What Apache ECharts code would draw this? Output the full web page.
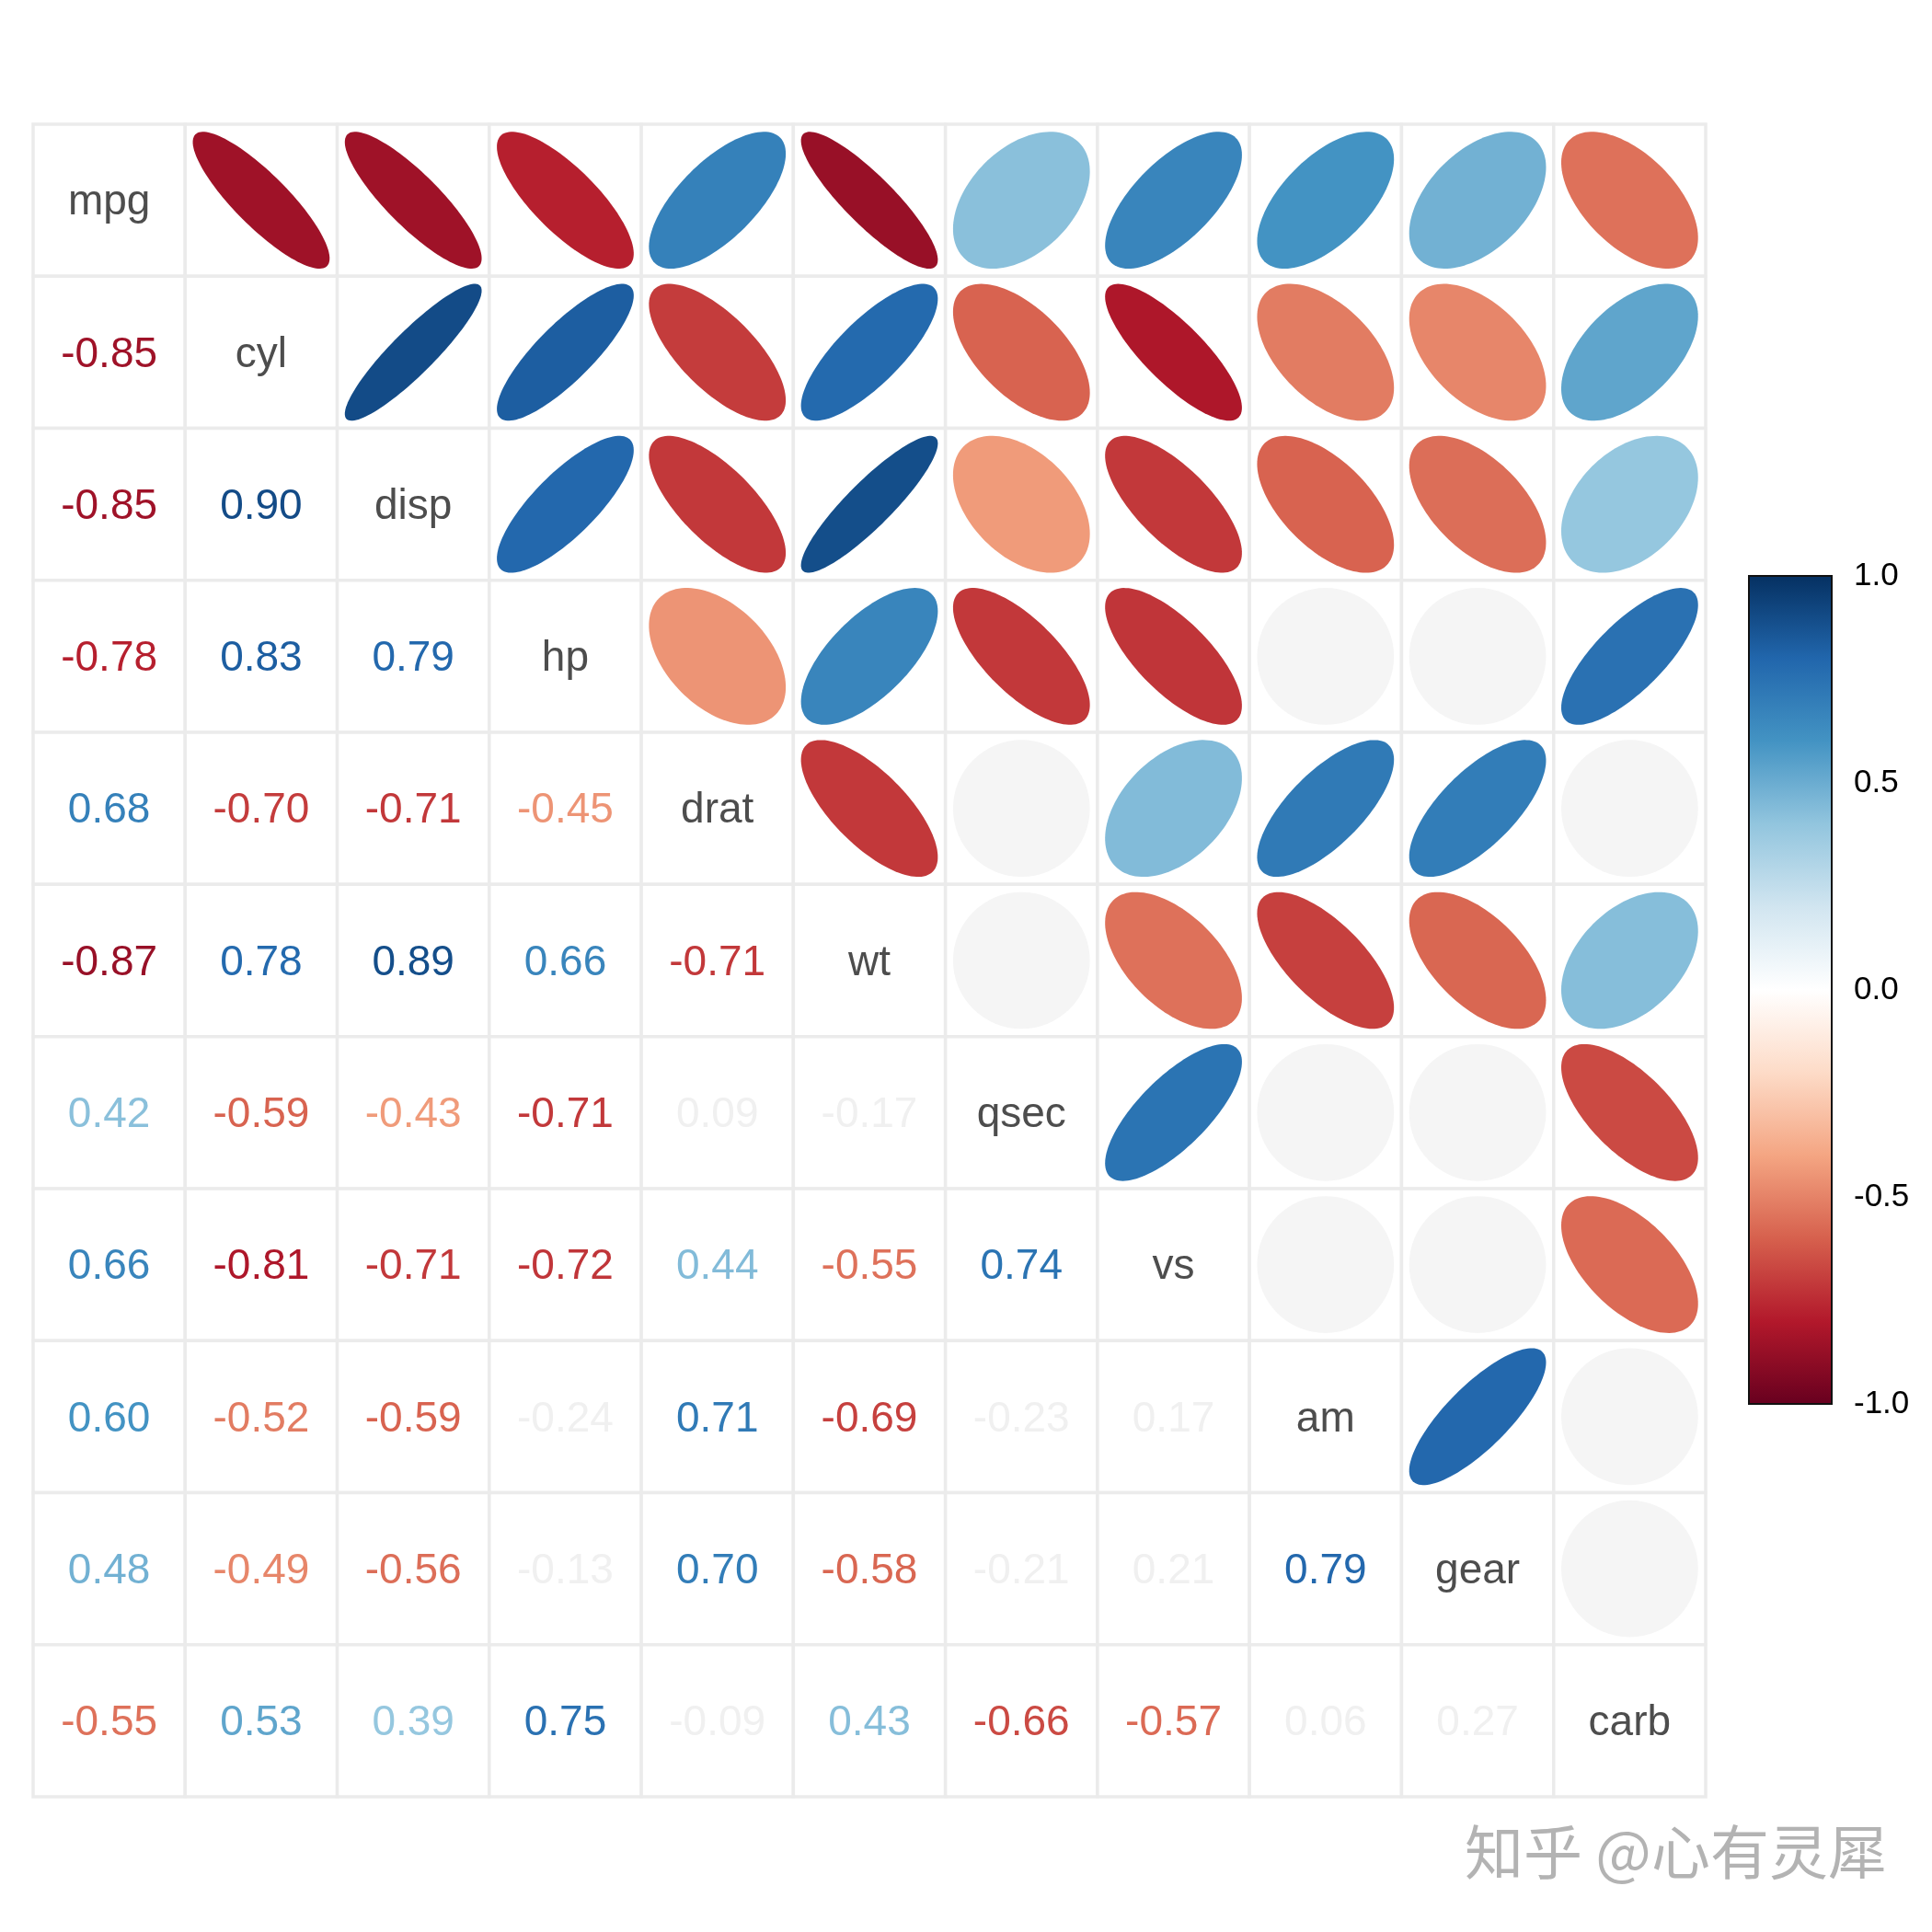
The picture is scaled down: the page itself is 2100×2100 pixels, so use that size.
<!DOCTYPE html>
<html><head><meta charset="utf-8">
<script src="https://cdn.jsdelivr.net/npm/echarts@6/dist/echarts.min.js"></script>
<style>html,body{margin:0;padding:0;background:#fff}#c{width:2100px;height:2100px}</style>
</head><body><div id="c"></div>
<script>
// ---- data ----
const variables = ['mpg','cyl','disp','hp','drat','wt','qsec','vs','am','gear','carb'];
const r_mpg  = [ 1.00, -0.85, -0.85, -0.78,  0.68, -0.87,  0.42,  0.66,  0.60,  0.48, -0.55];
const r_cyl  = [-0.85,  1.00,  0.90,  0.83, -0.70,  0.78, -0.59, -0.81, -0.52, -0.49,  0.53];
const r_disp = [-0.85,  0.90,  1.00,  0.79, -0.71,  0.89, -0.43, -0.71, -0.59, -0.56,  0.39];
const r_hp   = [-0.78,  0.83,  0.79,  1.00, -0.45,  0.66, -0.71, -0.72, -0.24, -0.13,  0.75];
const r_drat = [ 0.68, -0.70, -0.71, -0.45,  1.00, -0.71,  0.09,  0.44,  0.71,  0.70, -0.09];
const r_wt   = [-0.87,  0.78,  0.89,  0.66, -0.71,  1.00, -0.17, -0.55, -0.69, -0.58,  0.43];
const r_qsec = [ 0.42, -0.59, -0.43, -0.71,  0.09, -0.17,  1.00,  0.74, -0.23, -0.21, -0.66];
const r_vs   = [ 0.66, -0.81, -0.71, -0.72,  0.44, -0.55,  0.74,  1.00,  0.17,  0.21, -0.57];
const r_am   = [ 0.60, -0.52, -0.59, -0.24,  0.71, -0.69, -0.23,  0.17,  1.00,  0.79,  0.06];
const r_gear = [ 0.48, -0.49, -0.56, -0.13,  0.70, -0.58, -0.21,  0.21,  0.79,  1.00,  0.27];
const r_carb = [-0.55,  0.53,  0.39,  0.75, -0.09,  0.43, -0.66, -0.57,  0.06,  0.27,  1.00];
const corrRows = [r_mpg, r_cyl, r_disp, r_hp, r_drat, r_wt, r_qsec, r_vs, r_am, r_gear, r_carb];
// pairs drawn as faint (not significant)
const insignificantPairs = [
  ['hp','am'], ['hp','gear'], ['drat','qsec'], ['drat','carb'], ['wt','qsec'],
  ['qsec','am'], ['qsec','gear'], ['vs','am'], ['vs','gear'], ['am','carb'], ['gear','carb']
];
const colorbarTicks = [-1.0, -0.5, 0.0, 0.5, 1.0];
const paletteRdBu = ['#67001F','#B2182B','#D6604D','#F4A582','#FDDBC7','#FFFFFF',
                     '#D1E5F0','#92C5DE','#4393C3','#2166AC','#053061'];
const watermarkText = '知乎 @心有灵犀';

// ---- helpers ----
function hex2rgb(h){return [parseInt(h.slice(1,3),16),parseInt(h.slice(3,5),16),parseInt(h.slice(5,7),16)];}
function colorFor(v){
  const t = (Math.max(-1, Math.min(1, v)) + 1) / 2 * (paletteRdBu.length - 1);
  const i = Math.min(Math.floor(t), paletteRdBu.length - 2);
  const f = t - i;
  const a = hex2rgb(paletteRdBu[i]), b = hex2rgb(paletteRdBu[i+1]);
  const c = a.map((x,k)=>Math.round(x + (b[k]-x)*f));
  return 'rgb(' + c.join(',') + ')';
}
function isInsig(i,j){
  const a = variables[i], b = variables[j];
  return insignificantPairs.some(p => (p[0]===a && p[1]===b) || (p[0]===b && p[1]===a));
}

const cellData = [];
for (let i = 0; i < variables.length; i++) {
  for (let j = 0; j < variables.length; j++) {
    cellData.push([j, i, corrRows[i][j], isInsig(i,j) ? 1 : 0]);
  }
}

const FONT = '"Liberation Sans", Arial, sans-serif';
const TEXT_DY = 3;

function renderCell(params, api) {
  const col = api.value(0), row = api.value(1), r = api.value(2), insig = api.value(3);
  const c = api.coord([col, row]);
  const s = api.size([1, 1]);
  const w = s[0], h = s[1];
  const children = [{
    type: 'rect',
    shape: {x: c[0]-w/2, y: c[1]-h/2, width: w, height: h},
    style: {fill: '#fff', stroke: '#EBEBEB', lineWidth: 3.5}
  }];
  if (row === col) {
    children.push({type: 'text', style: {
      text: variables[row], x: c[0], y: c[1] + TEXT_DY, align: 'center', verticalAlign: 'middle',
      fontSize: 46, fontFamily: FONT, fill: '#4D4D4D'}});
  } else if (row > col) {
    children.push({type: 'text', style: {
      text: r.toFixed(2), x: c[0], y: c[1] + TEXT_DY, align: 'center', verticalAlign: 'middle',
      fontSize: 46, fontFamily: FONT, fill: insig ? '#F0F0F0' : colorFor(r)}});
  } else {
    const rad = 0.45 * w;
    if (insig) {
      children.push({type: 'circle', shape: {cx: c[0], cy: c[1], r: rad},
        style: {fill: '#F5F5F5'}});
    } else {
      const a = Math.acos(r) / 2;
      const pts = [];
      const n = 120;
      for (let k = 0; k < n; k++) {
        const t = 2 * Math.PI * k / n;
        pts.push([c[0] + rad * Math.cos(t + a), c[1] - rad * Math.cos(t - a)]);
      }
      children.push({type: 'polygon', shape: {points: pts}, style: {fill: colorFor(r)}});
    }
  }
  return {type: 'group', children};
}

function renderBar(params, api) {
  const p1 = api.coord([0, 1]);
  const p2 = api.coord([1, -1]);
  const stops = paletteRdBu.slice().reverse().map((col, k) => ({offset: k/(paletteRdBu.length-1), color: col}));
  return {type: 'rect',
    shape: {x: p1[0], y: p1[1], width: p2[0]-p1[0], height: p2[1]-p1[1]},
    style: {fill: new echarts.graphic.LinearGradient(0,0,0,1, stops), stroke: '#111', lineWidth: 2}};
}

const chart = echarts.init(document.getElementById('c'), null, {renderer: 'canvas'});
chart.setOption({
  backgroundColor: '#fff',
  animation: false,
  grid: [
    {left: 36, top: 135, width: 1818, height: 1818},
    {left: 1901, top: 626, width: 90, height: 900}
  ],
  xAxis: [
    {type: 'category', data: variables, gridIndex: 0, show: false},
    {type: 'value', min: 0, max: 1, gridIndex: 1, show: false}
  ],
  yAxis: [
    {type: 'category', data: variables, gridIndex: 0, inverse: true, show: false},
    {type: 'value', gridIndex: 1, min: -1, max: 1, interval: 0.5, position: 'left',
     axisLine: {show: false}, splitLine: {show: false}, axisLabel: {show: false},
     axisTick: {show: true, inside: true, length: 18, lineStyle: {color: '#111', width: 2}}},
    {type: 'value', gridIndex: 1, min: -1, max: 1, interval: 0.5, position: 'right',
     axisLine: {show: false}, splitLine: {show: false},
     axisTick: {show: true, inside: true, length: 18, lineStyle: {color: '#111', width: 2}},
     axisLabel: {show: true, margin: 24, fontSize: 35, fontFamily: FONT, color: '#000',
                 formatter: v => colorbarTicks.includes(v) ? v.toFixed(1) : ''}}
  ],
  series: [
    {type: 'custom', xAxisIndex: 0, yAxisIndex: 0, data: cellData, renderItem: renderCell},
    {type: 'custom', xAxisIndex: 1, yAxisIndex: 1, data: [[0, 0]], renderItem: renderBar, z: 1}
  ],
  graphic: [{type: 'text', x: 1592, y: 2013, z: 0,
    style: {text: watermarkText, fontSize: 64, fontFamily: '"Noto Sans CJK SC", sans-serif',
            fill: '#B3B3B3', verticalAlign: 'middle', align: 'left'}}]
});
</script></body></html>
